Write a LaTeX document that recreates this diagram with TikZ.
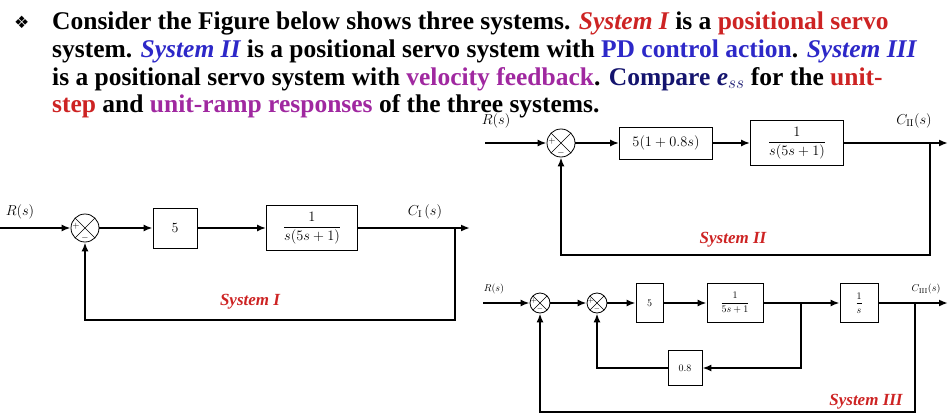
\documentclass[tikz,border=0pt]{standalone}
\usepackage{amsmath}
\usepackage{fontspec}
\newfontfamily\hfont{Liberation Serif}
\newfontfamily\dvs{DejaVu Sans}
\usetikzlibrary{arrows.meta}
\definecolor{hred}{RGB}{205,35,35}
\definecolor{hblue}{RGB}{45,40,200}
\definecolor{hpurp}{RGB}{160,40,160}
\definecolor{hnavy}{RGB}{20,20,110}
\begin{document}
\begin{tikzpicture}[x=1pt,y=-1pt,
  sig/.style={line width=2pt,-{Latex[length=9pt,width=7pt]}},
  blk/.style={draw,line width=0.8pt,inner sep=2pt,font=\fontsize{14}{16}\selectfont},
  sblk/.style={draw,line width=0.8pt,inner sep=1pt,font=\fontsize{10}{12}\selectfont},
  sumj/.style={draw,circle,line width=0.8pt,minimum size=#1,inner sep=0pt,
    path picture={\draw[line width=0.6pt] (path picture bounding box.north west)--(path picture bounding box.south east)
      (path picture bounding box.north east)--(path picture bounding box.south west);}},
  lab/.style={font=\fontsize{14}{16}\selectfont},
  slab/.style={font=\fontsize{10}{12}\selectfont},
  pm/.style={font=\fontsize{9}{9}\selectfont,inner sep=0pt},
  sysl/.style={text=hred,font=\hfont\bfseries\itshape\fontsize{17}{19}\selectfont}]
\useasboundingbox (0,0) rectangle (948,415);
\clip (0,0) rectangle (948,415);
% heading
\begin{scope}[every node/.style={anchor=base west,inner sep=0pt,font=\hfont\bfseries\fontsize{25.5}{28}\selectfont}]
\node (b) at (14,28) {\dvs\fontsize{17}{17}\selectfont ❖};
\node (l1) at (52,29) {Consider the Figure below shows three systems. \textcolor{hred}{\itshape System I} is a \textcolor{hred}{positional servo}};
\node (l2) at (52,57) {system. \textcolor{hblue}{\itshape System II} is a positional servo system with \textcolor{hblue}{PD control action}. \textcolor{hblue}{\itshape System III}};
\node (l3) at (52,85) {is a positional servo system with \textcolor{hpurp}{velocity feedback}. \textcolor{hnavy}{Compare \textit{e$_{ss}$}} for the \textcolor{hred}{unit-}};
\node (l4) at (52,112) {\textcolor{hred}{step} and \textcolor{hpurp}{unit-ramp responses} of the three systems.};
\end{scope}
% System I
\coordinate (i0) at (0,228);
\node[sumj=28pt] (s1) at (85,228) {};
\node[pm] at (76,226) {+};
\node[pm] at (85,238) {$-$};
\node[blk,minimum width=44pt,minimum height=40pt] (k1) at (175,228) {5};
\node[blk,minimum width=91pt,minimum height=45pt] (g1) at (312,228) {$\dfrac{1}{s(5s+1)}$};
\coordinate (o1) at (470,228);
\coordinate (t1) at (455,228);
\draw[sig] (i0) -- (s1);
\draw[sig] (s1) -- (k1);
\draw[sig] (k1) -- (g1);
\draw[sig] (g1) -- (o1);
\draw[sig] (t1) -- (455,320) -- (85,320) -- (s1.south);
\node[lab] at (20,212) {$R(s)$};
\node[lab] at (425,212) {$C_{\mathrm{I}}\,(s)$};
\node[sysl] at (250,302) {System I};
% System II
\node[sumj=28pt] (s2) at (561,143) {};
\node[pm] at (552,141) {+};
\node[pm] at (561,153) {$-$};
\node[blk,minimum width=93pt,minimum height=32pt] (k2) at (666,143) {$5(1+0.8s)$};
\node[blk,minimum width=93pt,minimum height=45pt] (g2) at (797,143) {$\dfrac{1}{s(5s+1)}$};
\draw[sig] (485,143) -- (s2);
\draw[sig] (s2) -- (k2);
\draw[sig] (k2) -- (g2);
\draw[sig] (g2) -- (948,143);
\draw[sig] (930,143) -- (930,255) -- (561,255) -- (s2.south);
\node[lab] at (496,121) {$R(s)$};
\node[lab] at (914,121) {$C_{\mathrm{II}}(s)$};
\node[sysl] at (733,240) {System II};
% System III
\node[sumj=20pt] (s3) at (540,303) {};
\node[pm,font=\fontsize{7}{7}\selectfont] at (534,301) {+};
\node[pm,font=\fontsize{7}{7}\selectfont] at (540,309) {$-$};
\node[sumj=20pt] (s4) at (597,303) {};
\node[pm,font=\fontsize{7}{7}\selectfont] at (591,301) {+};
\node[pm,font=\fontsize{7}{7}\selectfont] at (597,309) {$-$};
\node[sblk,minimum width=27pt,minimum height=39pt] (k3) at (649.5,303) {5};
\node[sblk,minimum width=56pt,minimum height=39pt] (g3) at (735,303) {$\dfrac{1}{5s+1}$};
\node[sblk,minimum width=38pt,minimum height=39pt] (i3) at (859,303) {$\dfrac{1}{s}$};
\node[sblk,minimum width=34pt,minimum height=35pt] (f3) at (685,368) {0.8};
\draw[sig] (483,303) -- (s3);
\draw[sig] (s3) -- (s4);
\draw[sig] (s4) -- (k3);
\draw[sig] (k3) -- (g3);
\draw[sig] (g3) -- (i3);
\draw[sig] (i3) -- (948,303);
\draw[sig] (801,303) -- (801,368) -- (f3);
\draw[sig] (f3) -- (597,368) -- (s4.south);
\draw[sig] (915,303) -- (915,412) -- (540,412) -- (s3.south);
\node[slab] at (494,289) {$R(s)$};
\node[slab] at (926,289) {$C_{\mathrm{III}}(s)$};
\node[sysl] at (866,402) {System III};
\end{tikzpicture}
\end{document}
